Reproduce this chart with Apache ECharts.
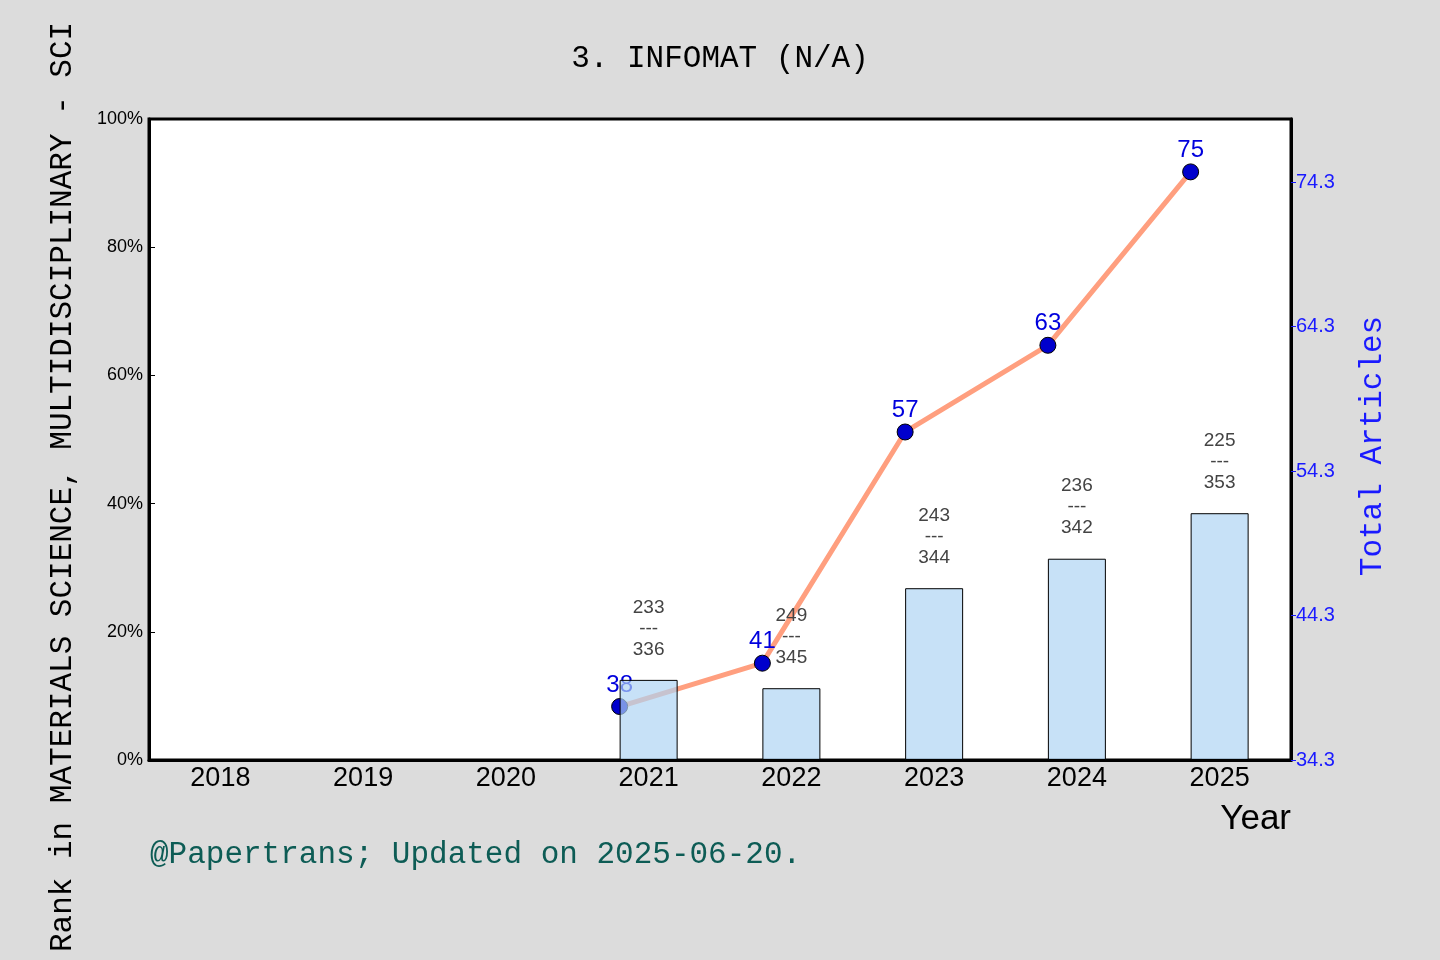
<!DOCTYPE html>
<html>
<head>
<meta charset="utf-8">
<script src="https://cdn.jsdelivr.net/npm/echarts@6/dist/echarts.min.js"></script>
<style>
  html, body { margin: 0; padding: 0; background: #dcdcdc; }
  #chart { width: 1440px; height: 960px; }
</style>
</head>
<body>
<div id="chart"></div>
<script>
const years = ['2018', '2019', '2020', '2021', '2022', '2023', '2024', '2025'];
// bar heights, % on left axis
const rankPct = [null, null, null, 12.5, 11.2, 26.8, 31.4, 38.5];
const rankPos = [null, null, null, 233, 249, 243, 236, 225];
const rankTotal = [null, null, null, 336, 345, 344, 342, 353];
// total articles, right axis
const articles = [null, null, null, 38, 41, 57, 63, 75];

const mono = 'Liberation Mono';
const sans = 'Liberation Sans';
const artMin = 34.3, artMax = 78.66;

const chart = echarts.init(document.getElementById('chart'));

const option = {
    backgroundColor: '#dcdcdc',
    animation: false,
    title: {
        text: '3. INFOMAT (N/A)',
        left: 'center',
        top: 38,
        textStyle: { fontFamily: mono, fontSize: 31, fontWeight: 'normal', color: '#000' }
    },
    grid: [
        {
            left: 149, right: 149, top: 119, bottom: 200,
            show: true,
            backgroundColor: '#fff',
            borderColor: '#000',
            borderWidth: 3
        },
        // line sits half a bar to the left of the bar centres
        { left: 120, right: 178, top: 119, bottom: 200 }
    ],
    xAxis: [
        {
            type: 'category',
            gridIndex: 0,
            data: years,
            name: 'Year',
            nameLocation: 'end',
            nameGap: 0,
            nameTextStyle: {
                fontFamily: sans, fontSize: 35, color: '#000',
                align: 'right', verticalAlign: 'top', padding: [42, 0, 0, 0]
            },
            axisLine: { lineStyle: { color: '#000', width: 3 } },
            axisTick: { inside: true, length: 5, lineStyle: { color: '#000', width: 1 } },
            axisLabel: { fontFamily: sans, fontSize: 27, color: '#000', margin: 5 },
            splitLine: { show: false }
        },
        {
            type: 'category',
            gridIndex: 1,
            data: years,
            show: false
        }
    ],
    yAxis: [
        {
            type: 'value',
            gridIndex: 0,
            min: 0,
            max: 100,
            interval: 20,
            position: 'left',
            axisLine: { show: true, lineStyle: { color: '#000', width: 3 } },
            axisTick: { show: true, inside: true, length: 6, lineStyle: { color: '#000', width: 1 } },
            axisLabel: { formatter: '{value}%', fontFamily: sans, fontSize: 18, color: '#000', margin: 6 },
            splitLine: { show: false }
        },
        {
            type: 'value',
            gridIndex: 0,
            min: artMin,
            max: artMax,
            interval: 10,
            position: 'right',
            axisLine: { show: true, lineStyle: { color: '#000', width: 3 } },
            axisTick: { show: true, length: 5, lineStyle: { color: '#1a1aff', width: 1 } },
            axisLabel: {
                showMaxLabel: false,
                formatter: v => v.toFixed(1),
                fontFamily: sans, fontSize: 20, color: '#1a1aff', margin: 5
            },
            splitLine: { show: false }
        },
        {
            type: 'value',
            gridIndex: 1,
            min: artMin,
            max: artMax,
            show: false
        }
    ],
    graphic: [
        {
            type: 'text',
            x: 63, y: 952,
            rotation: Math.PI / 2,
            style: {
                text: 'Rank in MATERIALS SCIENCE, MULTIDISCIPLINARY - SCI',
                font: '31px "Liberation Mono"',
                fill: '#000',
                align: 'left',
                verticalAlign: 'middle'
            }
        },
        {
            type: 'text',
            x: 1373, y: 446,
            rotation: Math.PI / 2,
            style: {
                text: 'Total Articles',
                font: '31px "Liberation Mono"',
                fill: '#1a1aff',
                align: 'center',
                verticalAlign: 'middle'
            }
        },
        {
            type: 'text',
            x: 150, y: 855,
            style: {
                text: '@Papertrans; Updated on 2025-06-20.',
                font: '31px "Liberation Mono"',
                fill: '#0d5c55',
                align: 'left',
                verticalAlign: 'middle'
            }
        }
    ],
    series: [
        {
            name: 'Total Articles',
            type: 'line',
            xAxisIndex: 1,
            yAxisIndex: 2,
            z: 2,
            data: articles,
            symbol: 'circle',
            symbolSize: 16,
            lineStyle: { color: '#ff9f7f', width: 5 },
            itemStyle: { color: '#0000cc', borderColor: '#000', borderWidth: 1 },
            label: {
                show: true,
                position: 'top',
                distance: 1,
                fontFamily: sans,
                fontSize: 24,
                color: '#0000dd'
            }
        },
        {
            name: 'Rank',
            type: 'bar',
            xAxisIndex: 0,
            yAxisIndex: 0,
            z: 3,
            barWidth: 58,
            data: rankPct,
            itemStyle: { color: 'rgba(174,211,243,0.69)', borderColor: '#000', borderWidth: 1 },
            label: {
                show: true,
                position: 'top',
                distance: 20,
                formatter: p => rankPos[p.dataIndex] + '\n---\n' + rankTotal[p.dataIndex],
                fontFamily: sans,
                fontSize: 19,
                lineHeight: 21,
                color: '#444'
            }
        }
    ]
};

chart.setOption(option);
window.addEventListener('resize', () => chart.resize());
</script>
</body>
</html>
